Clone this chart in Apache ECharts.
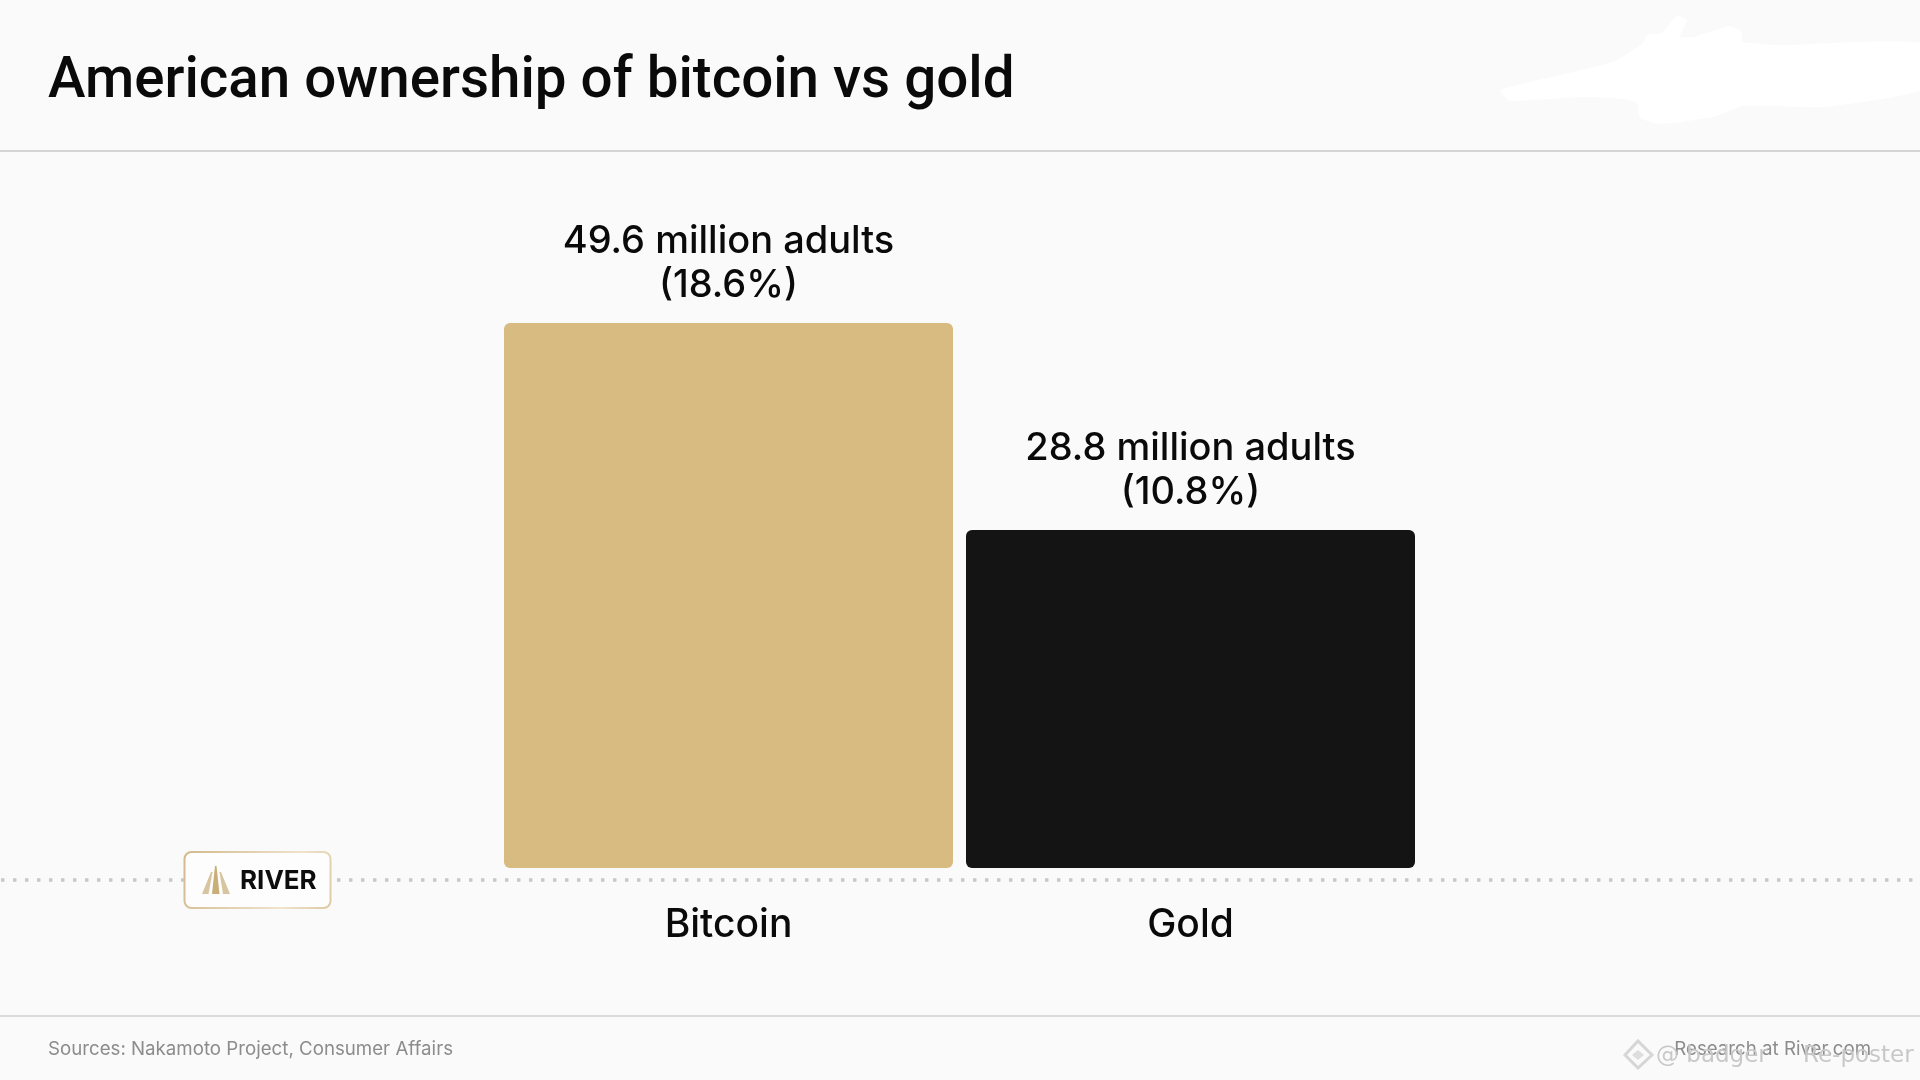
<!DOCTYPE html>
<html><head><meta charset="utf-8">
<style>html,body{margin:0;padding:0;background:#fafafa}#c{width:1920px;height:1080px}</style>
<script src="https://cdn.jsdelivr.net/npm/echarts@6/dist/echarts.min.js"></script>
</head><body><div id="c"></div>
<script>
const categories = ["Bitcoin", "Gold"];
const adultsMillions = [49.6, 28.8];
const sharePercent = [18.6, 10.8];
const barColors = ["#d8bb80", "#141414"];
const axisFloor = -5.18; // the source drawing's bars do not start at zero
const axisCeil = 49.6;

const FONT = "Inter";
const chart = echarts.init(document.getElementById('c'), null, {renderer:'canvas', width:1920, height:1080});

function renderBar(params, api){
  const i = api.value(0);
  const top = api.coord([i, api.value(1)]);
  const bottom = api.coord([i, axisFloor]);
  const w = api.size([1,0])[0] - 13;
  return {type:'group', children:[
    {type:'rect', shape:{x:top[0]-w/2, y:top[1], width:w, height:bottom[1]-top[1], r:6},
     style:{fill:barColors[i]}},
    {type:'text', style:{x:top[0], y:top[1]-59,
      text:adultsMillions[i].toFixed(1)+" million adults\n("+sharePercent[i].toFixed(1)+"%)",
      fill:'#0a0a0a', font:'500 38px '+FONT, align:'center', verticalAlign:'middle', lineHeight:44}}
  ]};
}

chart.setOption({
  animation:false,
  backgroundColor:'#fafafa',
  title:{text:"American ownership of bitcoin vs gold", left:43, top:49,
    textStyle:{fontFamily:"Roboto", fontWeight:500, fontSize:56.5, color:'#0a0a0a'}},
  grid:{left:497.5, width:924, top:323, height:545},
  xAxis:{type:'category', data:categories, axisLine:{show:false}, axisTick:{show:false},
    axisLabel:{fontFamily:FONT, fontWeight:500, fontSize:39, color:'#0a0a0a', margin:38}},
  yAxis:{type:'value', min:axisFloor, max:axisCeil, show:false, splitLine:{show:false}},
  series:[{type:'custom', name:'American adults owning (millions)', renderItem:renderBar,
    encode:{x:0,y:1}, data:adultsMillions.map((v,i)=>[i,v]), clip:false, z:3}],
  graphic:[
    {type:'polygon', silent:true, z:1, shape:{smooth:0.15, points:[[1500,90],[1613,62],[1643,43],[1647,35],[1662,33],[1677,16],[1687,20],[1680,37],[1693,37],[1730,26],[1742,32],[1742,42],[1780,45],[1920,43],[1920,90],[1823,107],[1743,106],[1713,117],[1660,124],[1640,118],[1637,103],[1623,99],[1580,97],[1510,101]]}, style:{fill:'#ffffff'}},
    {type:'line', silent:true, z:1, shape:{x1:0,y1:151,x2:1920,y2:151}, style:{stroke:'#c9c9c9',lineWidth:1.5}},
    {type:'line', silent:true, z:1, shape:{x1:0,y1:1016,x2:1920,y2:1016}, style:{stroke:'#cfcfcf',lineWidth:1.5}},
    {type:'line', silent:true, z:1, shape:{x1:1,y1:880,x2:1920,y2:880}, style:{stroke:'#c8c8c8',lineWidth:3.5,lineDash:[3.5,8.5]}},
    {type:'rect', silent:true, z:2, shape:{x:184.5,y:852,width:146,height:56,r:7}, style:{fill:'#fdfdfd',lineWidth:2,
      stroke:new echarts.graphic.LinearGradient(0,0,1,1,[{offset:0,color:'#d2b98a'},{offset:0.7,color:'#efe3cb'},{offset:1,color:'#dcc9a2'}])}},
    {type:'polygon', silent:true, z:3, shape:{points:[[202,894],[208.5,894],[212.5,872],[211,872]]}, style:{fill:'#d6c5a0'}},
    {type:'polygon', silent:true, z:3, shape:{points:[[212,894],[219.5,894],[216.5,866],[215,866]]}, style:{fill:'#c9ae76'}},
    {type:'polygon', silent:true, z:3, shape:{points:[[223,894],[230,894],[221,872],[219.5,872]]}, style:{fill:'#d6c5a0'}},
    {type:'text', silent:true, z:3, style:{x:240,y:881,text:'RIVER',fill:'#0d0d0d',font:'700 26px '+FONT,verticalAlign:'middle'}},
    {type:'text', silent:true, z:3, style:{x:48,y:1049,text:'Sources: Nakamoto Project, Consumer Affairs',fill:'#8c8c8c',font:'400 18.7px '+FONT,verticalAlign:'middle'}},
    {type:'text', silent:true, z:3, style:{x:1871,y:1049,text:'Research at River.com',fill:'#8c8c8c',font:'400 18.7px '+FONT,align:'right',verticalAlign:'middle'}},
    {type:'polygon', silent:true, z:4, shape:{points:[[1638,1041],[1652,1055],[1638,1068],[1625,1055]]}, style:{fill:'none',stroke:'#d6d6d6',lineWidth:3}},
    {type:'polygon', silent:true, z:4, shape:{points:[[1638,1050],[1644,1055],[1638,1060],[1632,1055]]}, style:{fill:'#dddddd'}},
    {type:'text', silent:true, z:4, style:{x:1656,y:1056,text:'@ badger',fill:'#c8c8c8',font:'400 23px "DejaVu Sans"',verticalAlign:'middle'}},
    {type:'text', silent:true, z:4, style:{x:1803,y:1056,text:'Re-poster',fill:'#c8c8c8',font:'400 23px "DejaVu Sans"',verticalAlign:'middle'}}
  ]
});
</script></body></html>
